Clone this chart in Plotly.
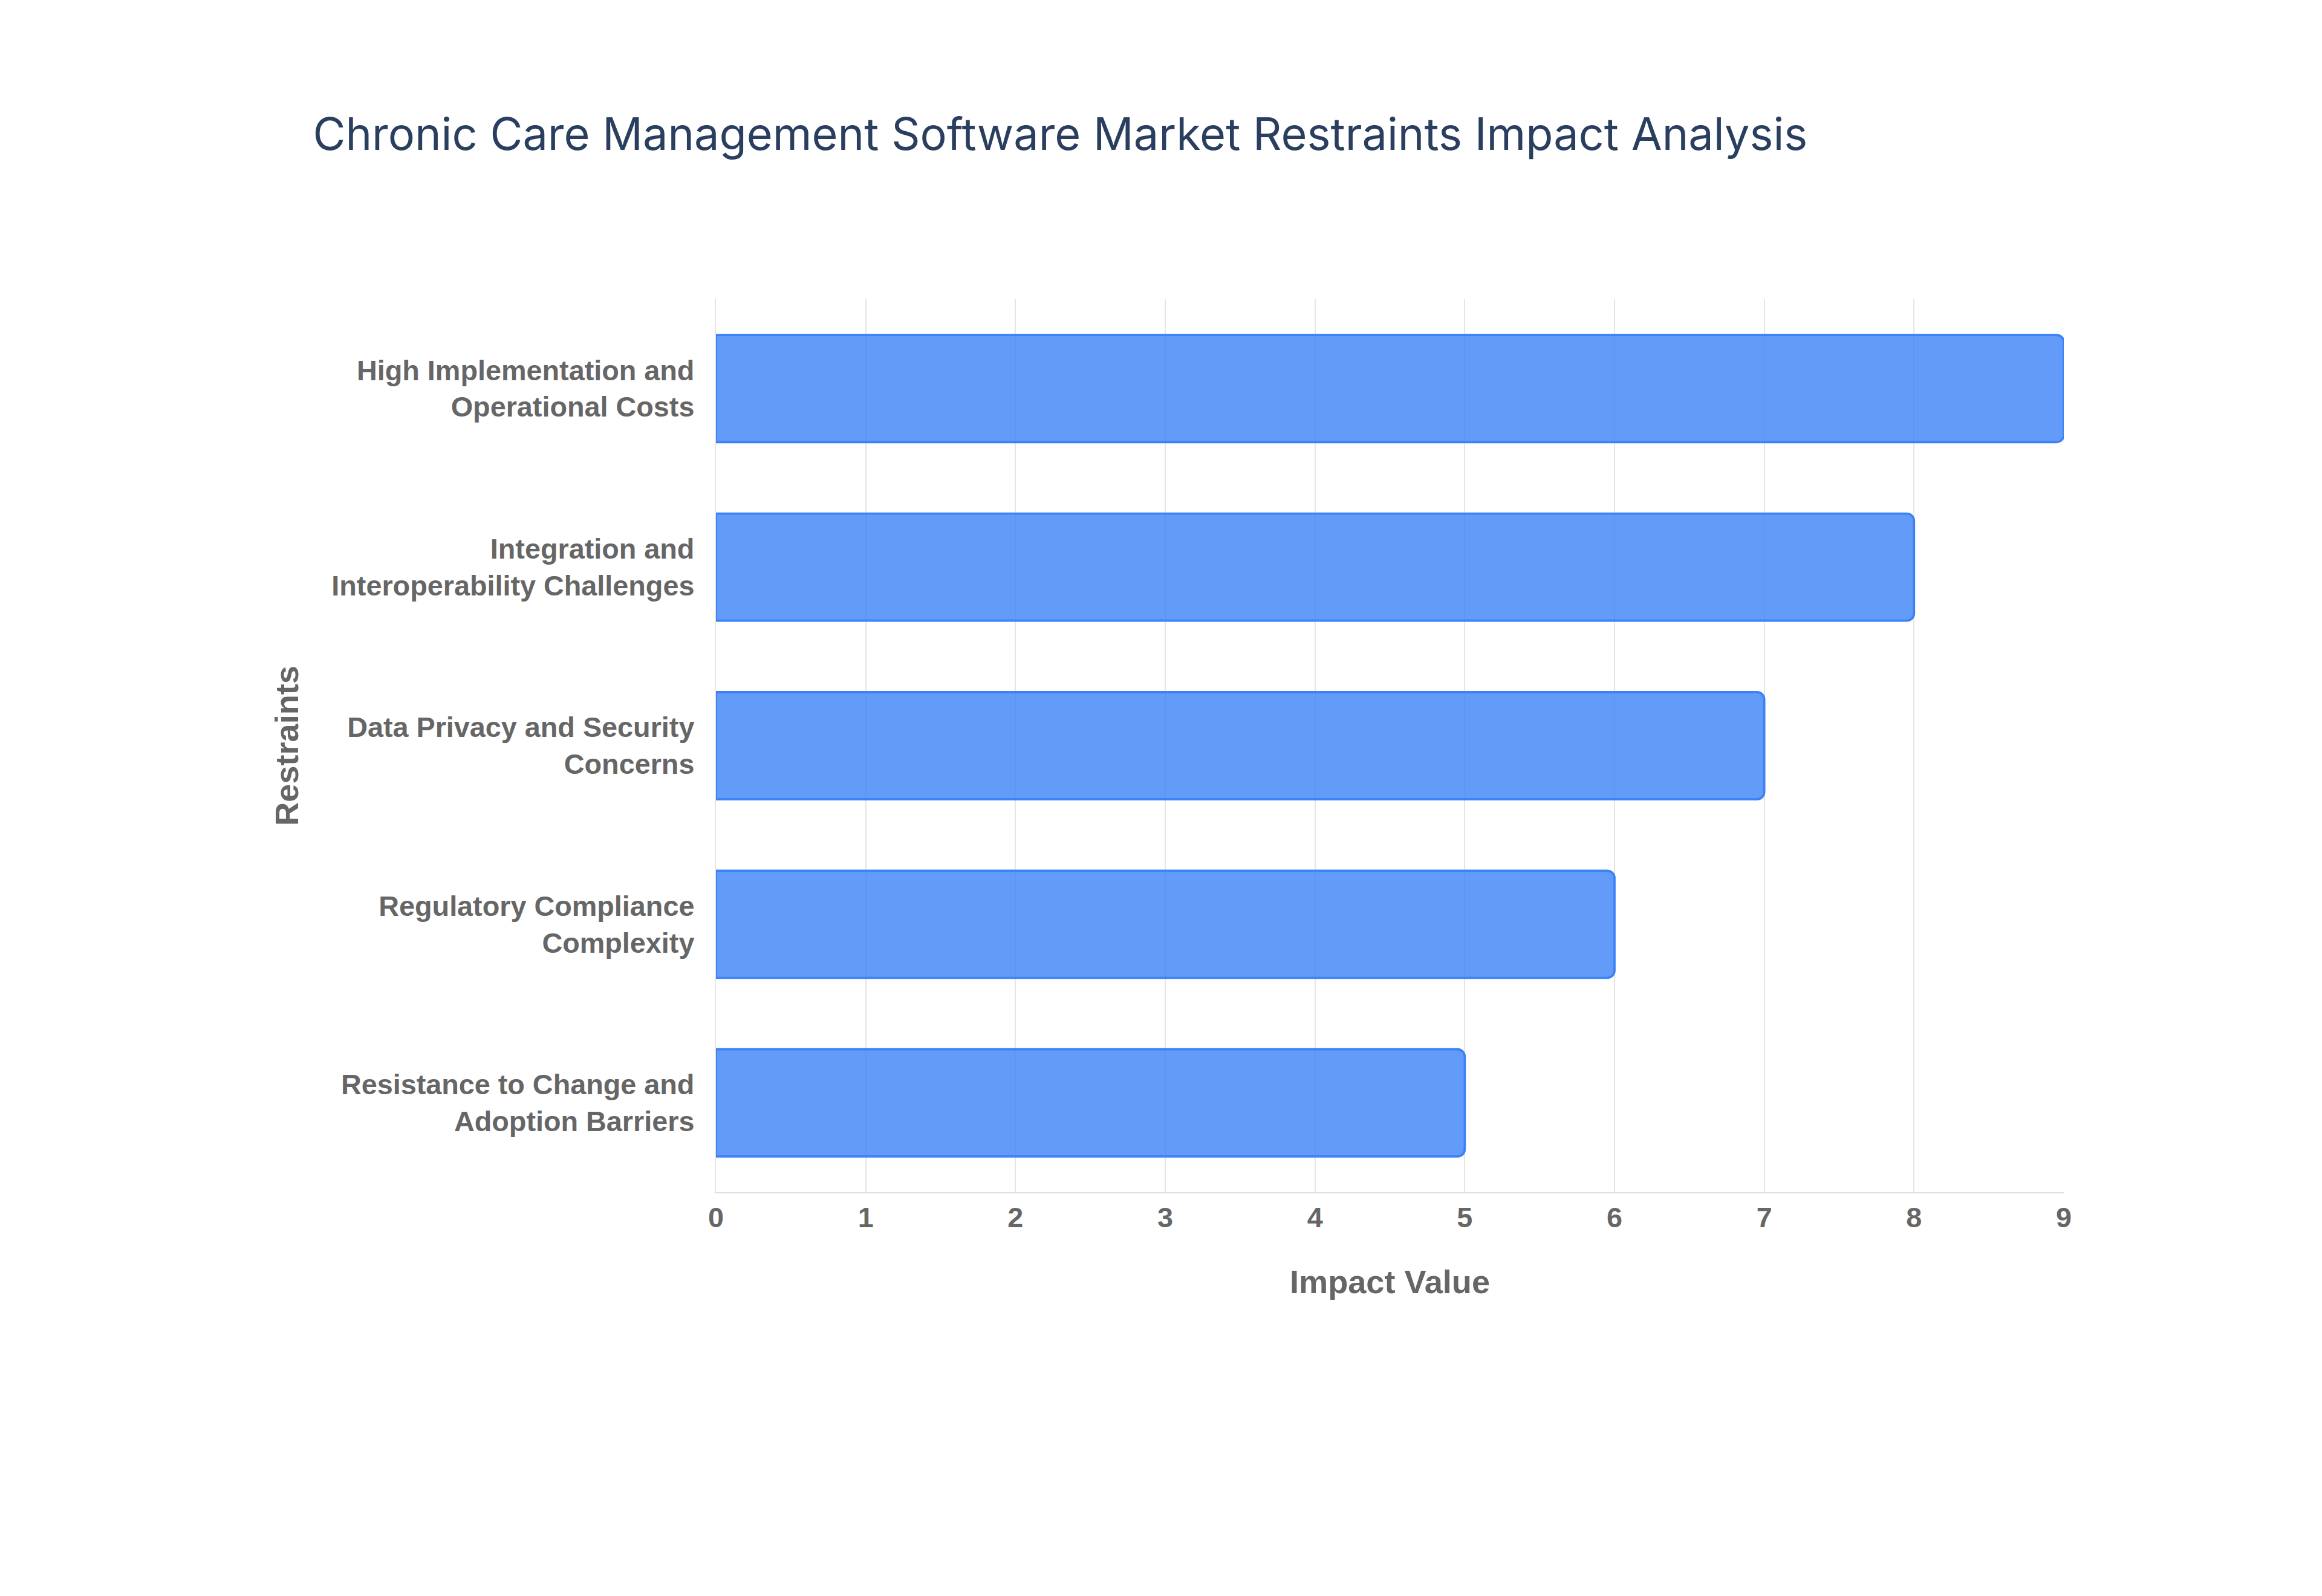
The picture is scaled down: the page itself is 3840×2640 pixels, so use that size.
import plotly.graph_objects as go

restraints = [
    "Resistance to Change and<br>Adoption Barriers",
    "Regulatory Compliance<br>Complexity",
    "Data Privacy and Security<br>Concerns",
    "Integration and<br>Interoperability Challenges",
    "High Implementation and<br>Operational Costs",
]
impact = [5, 6, 7, 8, 9]

S = 2.4615

fig = go.Figure(go.Bar(
    x=impact, y=restraints, orientation="h",
    width=0.6,
    marker=dict(color="rgba(59,130,246,0.8)", line=dict(color="#3b82f6", width=1.5 * S)),
))

fig.update_layout(
    width=3840, height=2640,
    paper_bgcolor="white", plot_bgcolor="white",
    barcornerradius=int(5 * S),
    margin=dict(l=int(478 * S), r=int(177 * S), t=int(198 * S), b=int(275 * S)),
    title=dict(text="Chronic Care Management Software Market Restraints Impact Analysis",
               x=207 * S / 3840, xanchor="left", y=1 - 87 * S / 2640, yanchor="middle",
               font=dict(family="Inter", size=30 * S, color="#2a3f5f")),
    showlegend=False,
)
fig.update_xaxes(
    range=[0, 9], dtick=1,
    title=dict(text="<b>Impact Value</b>", font=dict(family="Liberation Sans", size=22 * S, color="#666"),
               standoff=25 * S),
    tickfont=dict(family="Liberation Sans", size=19 * S, color="#666", weight="bold"),
    showgrid=True, gridcolor="#e5e5e5", gridwidth=1 * S,
    showline=True, linecolor="#e0e0e0", linewidth=1 * S,
    zeroline=False, ticks="", ticklen=0,
)
fig.update_yaxes(
    title=dict(text="<b>Restraints</b>", font=dict(family="Liberation Sans", size=22 * S, color="#666"),
               standoff=15 * S),
    tickfont=dict(family="Liberation Sans", size=19 * S, color="#666", weight="bold"),
    ticklabelstandoff=int(10 * S),
    showgrid=False, showline=True, linecolor="#e5e5e5", linewidth=1 * S,
)

fig.write_html("out.html")
